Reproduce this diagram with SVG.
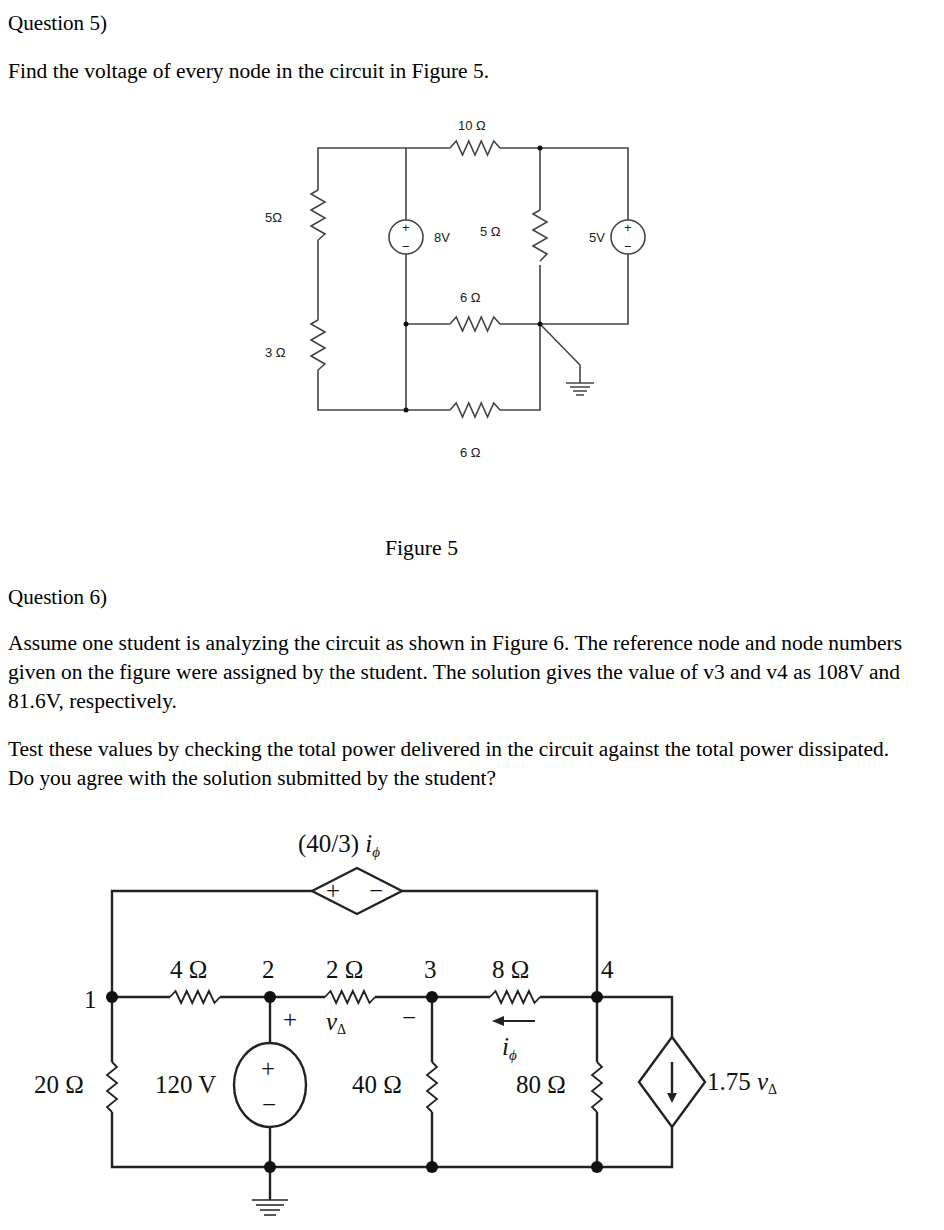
<svg xmlns="http://www.w3.org/2000/svg" width="944" height="1230" viewBox="0 0 944 1230">
<style>
.t{font-family:"Liberation Serif",serif;font-size:20px;fill:#000}
.s{font-family:"Liberation Sans",sans-serif;font-size:13px;fill:#222}
.w{fill:none;stroke:#444;stroke-width:1.6}
.w6{fill:none;stroke:#222;stroke-width:2.4}
.c{font-family:"Liberation Serif",serif;font-size:25px;fill:#111}
</style>
<rect width="944" height="1230" fill="#fff"/>
<text class="t" x="8" y="30" textLength="99" lengthAdjust="spacingAndGlyphs">Question 5)</text>
<text class="t" x="8" y="78" textLength="481" lengthAdjust="spacingAndGlyphs">Find the voltage of every node in the circuit in Figure 5.</text>
<text class="t" x="385" y="555" textLength="73" lengthAdjust="spacingAndGlyphs">Figure 5</text>
<text class="t" x="8" y="604" textLength="99" lengthAdjust="spacingAndGlyphs">Question 6)</text>
<text class="t" x="8" y="650" textLength="894" lengthAdjust="spacingAndGlyphs">Assume one student is analyzing the circuit as shown in Figure 6. The reference node and node numbers</text>
<text class="t" x="8" y="679" textLength="892" lengthAdjust="spacingAndGlyphs">given on the figure were assigned by the student. The solution gives the value of v3 and v4 as 108V and</text>
<text class="t" x="8" y="708" textLength="169" lengthAdjust="spacingAndGlyphs">81.6V, respectively.</text>
<text class="t" x="8" y="756" textLength="881" lengthAdjust="spacingAndGlyphs">Test these values by checking the total power delivered in the circuit against the total power dissipated.</text>
<text class="t" x="8" y="785" textLength="488" lengthAdjust="spacingAndGlyphs">Do you agree with the solution submitted by the student?</text>

<g id="fig5-wires" class="w">
<path d="M450 148H318V190M318 240V320M318 370V410H450M500 410H540V324"/>
<path d="M406 148V220M406 254V324V410"/>
<path d="M500 148H628V220M628 254V324H540M406 324H450M500 324H540"/>
<path d="M540 148V210M540 265V324L580 365V383"/>
<path d="M450 148l6.25 -7l6.25 14l6.25 -14l6.25 14l6.25 -14l6.25 14l6.25 -14l6.25 7"/>
<path d="M450 324l6.25 -7l6.25 14l6.25 -14l6.25 14l6.25 -14l6.25 14l6.25 -14l6.25 7"/>
<path d="M450 410l6.25 -7l6.25 14l6.25 -14l6.25 14l6.25 -14l6.25 14l6.25 -14l6.25 7"/>
<path d="M318 190l-7 4l14 8l-14 8l14 8l-14 8l14 8l-7 6"/>
<path d="M318 320l-7 4l14 8l-14 8l14 8l-14 8l14 8l-7 6"/>
<path d="M540 210l-7 4l14 8l-14 8l14 8l-14 8l14 8l-7 7"/>
<path d="M566 383H594M570 387H590M573 391H587M576 395H584"/>
</g>
<g id="fig5-8V"><circle cx="406" cy="237" r="17" class="w"/><text class="s" x="402" y="232" font-size="10">+</text><text class="s" x="402" y="251" font-size="10">−</text><text class="s" x="434" y="242" font-size="12">8V</text></g>
<g id="fig5-5V"><circle cx="628" cy="237" r="17" class="w"/><text class="s" x="624" y="232" font-size="10">+</text><text class="s" x="624" y="251" font-size="10">−</text><text class="s" x="589" y="242" font-size="11">5V</text></g>
<g fill="#111"><circle cx="540" cy="148" r="2.5"/><circle cx="406" cy="324" r="2.5"/><circle cx="540" cy="324" r="2.5"/><circle cx="406" cy="410" r="2.5"/></g>
<g id="fig5-labels">
<text class="s" x="458" y="130">10 Ω</text>
<text class="s" x="265" y="222">5Ω</text>
<text class="s" x="480" y="236">5 Ω</text>
<text class="s" x="460" y="302">6 Ω</text>
<text class="s" x="265" y="357">3 Ω</text>
<text class="s" x="460" y="457">6 Ω</text>
</g>

<g id="fig6-wires" class="w6">
<path d="M112 997V891H312M402 891H597V997H672V1037M672 1127V1167H112V1112M112 1062V997"/>
<path d="M112 997H170M220 997H325M375 997H490M540 997H597"/>
<path d="M270 997V1043M270 1127V1200M432 997V1062M432 1112V1167M597 997V1062M597 1112V1167"/>
<path d="M170 997l5.56 -6l5.56 12l5.56 -12l5.56 12l5.56 -12l5.56 12l5.56 -12l5.56 12l5.56 -6" stroke-width="1.8"/>
<path d="M325 997l5.56 -6l5.56 12l5.56 -12l5.56 12l5.56 -12l5.56 12l5.56 -12l5.56 12l5.56 -6" stroke-width="1.8"/>
<path d="M490 997l5.56 -6l5.56 12l5.56 -12l5.56 12l5.56 -12l5.56 12l5.56 -12l5.56 12l5.56 -6" stroke-width="1.8"/>
<path d="M112 1062l5 5l-10 8l10 8l-10 8l10 8l-10 8l5 5" stroke-width="1.8"/>
<path d="M432 1062l5 5l-10 8l10 8l-10 8l10 8l-10 8l5 5" stroke-width="1.8"/>
<path d="M597 1062l5 5l-10 8l10 8l-10 8l10 8l-10 8l5 5" stroke-width="1.8"/>
<path d="M252 1200H288M256 1205H284M260 1210H280M264 1215H276" stroke-width="1.6"/>
<path d="M495 1021H535" stroke-width="1.8"/>
<path d="M492 1021l12 -5v10z" fill="#222" stroke="none"/>
</g>
<g id="fig6-cvs"><path d="M312 891L357 868L402 891L357 914Z" class="w6"/><text class="c" x="326" y="899" font-size="22">+</text><text class="c" x="369" y="899" font-size="22">−</text><text class="c" x="298" y="852">(40/3) <tspan font-style="italic">i</tspan><tspan font-style="italic" font-size="15" dy="5">ϕ</tspan></text></g>
<g id="fig6-120V"><ellipse cx="270" cy="1085" rx="36" ry="42" class="w6"/><text class="c" x="261" y="1077">+</text><text class="c" x="262" y="1113">−</text><text class="c" x="155" y="1093">120 V</text></g>
<g id="fig6-cs"><path d="M672 1037L705 1082L672 1127L639 1082Z" class="w6"/><path d="M672 1062V1098" class="w6" stroke-width="1.8"/><path d="M672 1103l-5 -10h10z" fill="#222"/><text class="c" x="707" y="1090">1.75 <tspan font-style="italic">v</tspan><tspan font-size="14" dy="4">Δ</tspan></text></g>
<g fill="#111"><circle cx="112" cy="997" r="6"/><circle cx="270" cy="997" r="6"/><circle cx="432" cy="997" r="6"/><circle cx="597" cy="997" r="6"/><circle cx="270" cy="1167" r="6"/><circle cx="432" cy="1167" r="6"/><circle cx="597" cy="1167" r="6"/></g>
<g id="fig6-labels">
<text class="c" x="84" y="1008">1</text>
<text class="c" x="262" y="978">2</text>
<text class="c" x="424" y="978">3</text>
<text class="c" x="601" y="978">4</text>
<text class="c" x="170" y="978">4 Ω</text>
<text class="c" x="326" y="978">2 Ω</text>
<text class="c" x="492" y="978">8 Ω</text>
<text class="c" x="283" y="1028" font-size="20">+</text>
<text class="c" x="326" y="1030" font-style="italic">v<tspan font-style="normal" font-size="14" dy="4">Δ</tspan></text>
<text class="c" x="402" y="1026" font-size="20">−</text>
<text class="c" x="502" y="1055" font-style="italic">i<tspan font-size="15" dy="5">ϕ</tspan></text>
<text class="c" x="34" y="1093">20 Ω</text>
<text class="c" x="352" y="1093">40 Ω</text>
<text class="c" x="516" y="1093">80 Ω</text>
</g>
</svg>
